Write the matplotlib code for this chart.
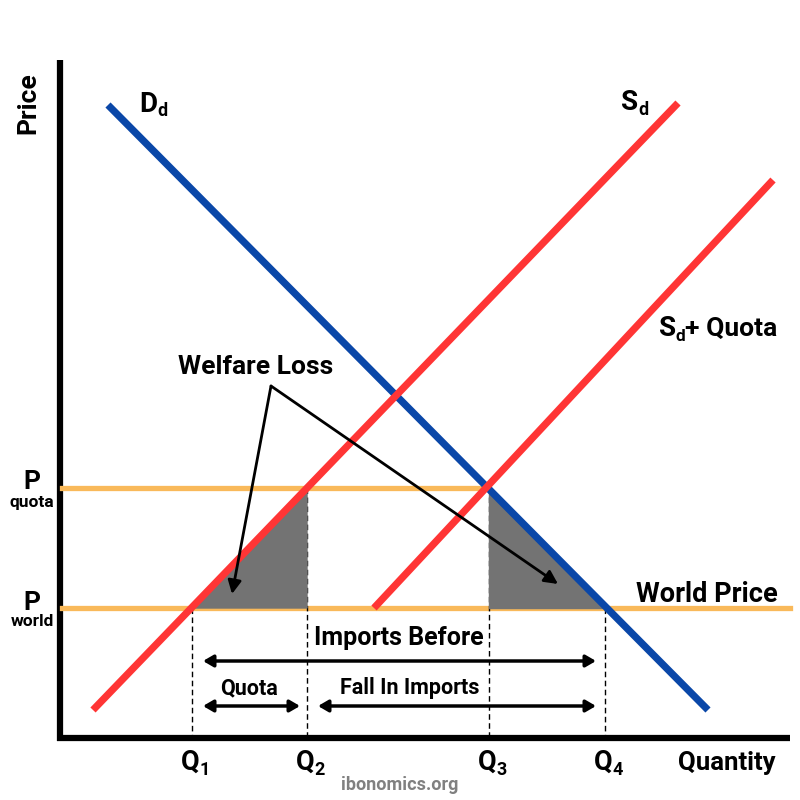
import matplotlib.pyplot as plt
from matplotlib.patches import Polygon

# chart drawn in pixel-like units (x right, y down)
demand = [(108, 105), (708, 710)]
supply = [(93, 710), (678, 103)]
supply_quota = [(374, 608), (773, 180)]
p_quota = 488
p_world = 608
q_points = [192, 307, 489, 605]
q_labels = ["1", "2", "3", "4"]

BLUE = "#0a47a8"
RED = "#ff3535"
ORANGE = "#f9b95a"
GRAY = "#737373"
FONT = "Roboto"
W = "bold"

fig = plt.figure(figsize=(8, 8), dpi=100)
ax = fig.add_axes([0, 0, 1, 1])
ax.set_xlim(0, 800)
ax.set_ylim(800, 0)
ax.axis("off")

# axes
ax.plot([60, 60], [60, 741], color="black", lw=4.5, solid_capstyle="butt")
ax.plot([57, 790], [738, 738], color="black", lw=4.5, solid_capstyle="butt")

# price lines
ax.plot([62, q_points[2]], [p_quota, p_quota], color=ORANGE, lw=3.8, zorder=2)
ax.plot([62, 790], [p_world, p_world], color=ORANGE, lw=3.8, zorder=2)

# dashed guides
ax.plot([q_points[0]] * 2, [p_world, 736], color="black", lw=1, ls=(0, (4, 2.5)))
ax.plot([q_points[1]] * 2, [p_quota, 736], color="black", lw=1, ls=(0, (4, 2.5)))
ax.plot([q_points[2]] * 2, [p_quota, 736], color="black", lw=1, ls=(0, (4, 2.5)))
ax.plot([q_points[3]] * 2, [p_world, 736], color="black", lw=1, ls=(0, (4, 2.5)))

# welfare loss triangles
ax.add_patch(Polygon([(q_points[0], p_world), (q_points[1], p_quota), (q_points[1], p_world)],
                     closed=True, color=GRAY, zorder=3))
ax.add_patch(Polygon([(q_points[2], p_quota), (q_points[2], p_world), (q_points[3], p_world)],
                     closed=True, color=GRAY, zorder=3))

# curves
for pts, c in [(demand, BLUE), (supply, RED), (supply_quota, RED)]:
    ax.plot([pts[0][0], pts[1][0]], [pts[0][1], pts[1][1]], color=c, lw=5.2,
            solid_capstyle="butt", zorder=4)

# welfare loss arrows
ax.text(256, 367, "Welfare Loss", fontsize=19, fontweight=W, family=FONT,
        ha="center", va="center")
for tgt in [(232, 594), (558, 584)]:
    ax.annotate("", xy=tgt, xytext=(271, 386),
                arrowprops=dict(arrowstyle="-|>,head_length=0.8,head_width=0.4",
                                color="black", lw=2, shrinkA=0, shrinkB=0), zorder=6)

# import arrows
def dbl(x0, x1, y):
    ax.annotate("", xy=(x1, y), xytext=(x0, y),
                arrowprops=dict(arrowstyle="<|-|>,head_length=0.6,head_width=0.35",
                                color="black", lw=2.5, shrinkA=0, shrinkB=0))

dbl(203, 596, 661)
dbl(203, 300, 706)
dbl(318, 596, 706)
ax.text(399, 638, "Imports Before", fontsize=18, fontweight=W, family=FONT,
        ha="center", va="center")
ax.text(249, 688, "Quota", fontsize=15.5, fontweight=W, family=FONT,
        ha="center", va="center")
ax.text(410, 688, "Fall In Imports", fontsize=15.5, fontweight=W, family=FONT,
        ha="center", va="center")

# curve labels
ax.text(139, 112, "D", fontsize=20, fontweight=W, family=FONT, va="baseline")
ax.text(157, 116, "d", fontsize=13, fontweight=W, family=FONT, va="baseline")
ax.text(621, 110, "S", fontsize=20, fontweight=W, family=FONT, va="baseline")
ax.text(638, 115, "d", fontsize=13, fontweight=W, family=FONT, va="baseline")
ax.text(659, 336, "S", fontsize=20, fontweight=W, family=FONT, va="baseline")
ax.text(676, 341, "d", fontsize=12.5, fontweight=W, family=FONT, va="baseline")
ax.text(685, 336, "+ Quota", fontsize=19, fontweight=W, family=FONT, va="baseline")
ax.text(636, 602, "World Price", fontsize=19.5, fontweight=W, family=FONT, va="baseline")

# axis labels
ax.text(28, 103, "Price", fontsize=19, fontweight=W, family=FONT, rotation=90,
        ha="center", va="center")
ax.text(727, 763, "Quantity", fontsize=18.5, fontweight=W, family=FONT,
        ha="center", va="center")
ax.text(32, 489, "P", fontsize=19, fontweight=W, family=FONT, ha="center", va="baseline")
ax.text(32, 495, "quota", fontsize=12.5, fontweight=W, family=FONT, ha="center", va="top")
ax.text(32, 610, "P", fontsize=19, fontweight=W, family=FONT, ha="center", va="baseline")
ax.text(32, 614, "world", fontsize=12.5, fontweight=W, family=FONT, ha="center", va="top")

for q, lab in zip(q_points, q_labels):
    ax.text(q - 2, 770, "Q", fontsize=19.5, fontweight=W, family=FONT, ha="center",
            va="baseline")
    ax.text(q + 7.5, 775, lab, fontsize=13, fontweight=W, family=FONT, ha="left",
            va="baseline")

ax.text(400, 785, "ibonomics.org", fontsize=13, fontweight=W, family=FONT,
        color="#808080", ha="center", va="center")

fig.savefig("out.png", dpi=100)
